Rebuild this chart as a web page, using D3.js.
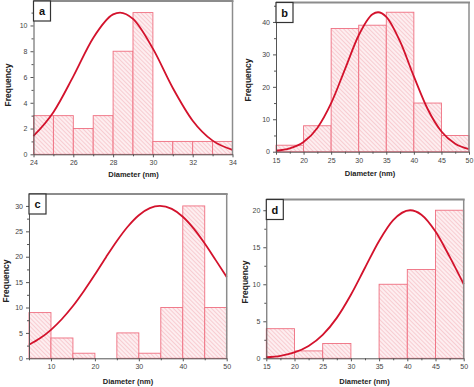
<!DOCTYPE html>
<meta charset="utf-8">
<style>
body { margin: 0; background: #fff; }
.tick text { font: 7px Arial, "Liberation Sans", sans-serif; fill: #444; }
.axis .domain, .axis line { stroke: #555; }
.xtitle, .ytitle { font-family: Arial, "Liberation Sans", sans-serif; font-weight: bold; fill: #222; }
.tag { font: bold 11px Arial, "Liberation Sans", sans-serif; fill: #111; }
</style>
<svg width="474" height="387"></svg>
<script src="https://d3js.org/d3.v7.min.js"></script>
<script>

// ---- data ----
// panel a: bins of 1 nm from 24
var aBins = [24, 25, 26, 27, 28, 29, 30, 31, 32, 33];
var aCounts = [3, 3, 2, 3, 8, 11, 1, 1, 1, 1];
var aCurveX = [24, 25, 26, 27, 28, 28.35, 29, 30, 31, 32, 33, 34];
var aCurveY = [1.42, 3.27, 6.05, 9.03, 10.86, 11, 10.51, 8.2, 5.15, 2.61, 1.06, 0.35];

// panel b: bins of 5 nm from 15
var bBins = [15, 20, 25, 30, 35, 40, 45];
var bCounts = [2, 8, 38, 39, 43, 15, 5];
var bCurveX = [15, 17.5, 20, 22.5, 25, 27.5, 30, 32.5, 33.5, 35, 37.5, 40, 42.5, 45, 47.5, 50];
var bCurveY = [0.29, 1.02, 3.0, 7.33, 14.95, 25.4, 35.9, 42.4, 43, 41.6, 34.0, 23.2, 13.16, 6.22, 2.45, 0.8];

// panel c: bins of 5 nm from 5
var cBins = [5, 10, 15, 20, 25, 30, 35, 40, 45];
var cCounts = [9, 4, 1, 0, 5, 1, 10, 30, 10];
var cCurveX = [5, 7.5, 10, 12.5, 15, 17.5, 20, 22.5, 25, 27.5, 30, 32.5, 34.8, 37.5, 40, 42.5, 45, 47.5, 50];
var cCurveY = [2.67, 3.94, 5.61, 7.74, 10.3, 13.27, 16.5, 19.87, 23.1, 25.95, 28.17, 29.57, 30, 29.41, 27.87, 25.53, 22.6, 19.33, 16];

// panel d: bins of 5 nm from 15
var dBins = [15, 20, 25, 30, 35, 40, 45];
var dCounts = [4, 1, 2, 0, 10, 12, 20];
var dCurveX = [15, 17.5, 20, 22.5, 25, 27.5, 30, 32.5, 35, 37.5, 40.5, 42.5, 45, 47.5, 50];
var dCurveY = [0.14, 0.34, 0.79, 1.66, 3.16, 5.46, 8.58, 12.23, 15.85, 18.66, 20, 19.4, 17.12, 13.73, 10];

// tick values
var aXTicks = [24, 26, 28, 30, 32, 34], aYTicks = [0, 2, 4, 6, 8, 10];
var bXTicks = [15, 20, 25, 30, 35, 40, 45, 50], bYTicks = [0, 10, 20, 30, 40];
var cXTicks = [10, 20, 30, 40, 50], cYTicks = [0, 5, 10, 15, 20, 25, 30];
var dXTicks = [15, 20, 25, 30, 35, 40, 45, 50], dYTicks = [0, 5, 10, 15, 20];

// ---- layout of the four panels ----
var panels = [
  {tag: "a", bins: aBins, counts: aCounts, width: 1, cx: aCurveX, cy: aCurveY,
   xd: [24, 34], yd: [0, 11.9], xt: aXTicks, yt: aYTicks, xm: 1, ym: 1,
   left: 33.5, right: 232.5, top: 1, bottom: 154.3,
   xtx: 133.5, xty: 177, ytx: 11, yty: 85},
  {tag: "b", bins: bBins, counts: bCounts, width: 5, cx: bCurveX, cy: bCurveY,
   xd: [15, 50], yd: [0, 46], xt: bXTicks, yt: bYTicks, xm: 2.5, ym: 5,
   left: 276, right: 469, top: 2.5, bottom: 151.7,
   xtx: 370, xty: 175.5, ytx: 250.5, yty: 80},
  {tag: "c", bins: cBins, counts: cCounts, width: 5, cx: cCurveX, cy: cCurveY,
   xd: [5, 50], yd: [0, 32.35], xt: cXTicks, yt: cYTicks, xm: 5, ym: 2.5,
   left: 29, right: 226.7, top: 194, bottom: 358.3,
   xtx: 128, xty: 383.5, ytx: 8.5, yty: 281},
  {tag: "d", bins: dBins, counts: dCounts, width: 5, cx: dCurveX, cy: dCurveY,
   xd: [15, 50], yd: [0, 21.45], xt: dXTicks, yt: dYTicks, xm: 2.5, ym: 2.5,
   left: 266.3, right: 463.7, top: 199.5, bottom: 358.3,
   xtx: 364.5, xty: 383.5, ytx: 248, yty: 282}
];

var svg = d3.select("svg");

// diagonal hatch for the bars
var pat = svg.append("defs").append("pattern")
    .attr("id", "hatch")
    .attr("patternUnits", "userSpaceOnUse")
    .attr("width", 3).attr("height", 3)
    .attr("patternTransform", "rotate(-45)");
pat.append("rect").attr("width", 3).attr("height", 3).attr("fill", "#fdeef0");
pat.append("line").attr("x1", 0).attr("y1", 0).attr("x2", 0).attr("y2", 3)
    .attr("stroke", "#f4aab3").attr("stroke-width", 1);

panels.forEach(function(p) {
  var x = d3.scaleLinear().domain(p.xd).range([p.left, p.right]);
  var y = d3.scaleLinear().domain(p.yd).range([p.bottom, p.top]);
  var g = svg.append("g");

  // bars
  g.selectAll("rect.bar")
    .data(p.bins.map(function(b, i) { return {x0: b, n: p.counts[i]}; }).filter(d => d.n > 0))
    .enter().append("rect")
      .attr("class", "bar")
      .attr("x", d => x(d.x0))
      .attr("y", d => y(d.n))
      .attr("width", d => x(d.x0 + p.width) - x(d.x0))
      .attr("height", d => y(0) - y(d.n))
      .attr("fill", "url(#hatch)")
      .attr("stroke", "#ef6f80")
      .attr("stroke-width", 0.9);

  // fitted curve
  var line = d3.line()
      .x(d => x(d[0])).y(d => y(d[1]))
      .curve(d3.curveMonotoneX);
  g.append("path")
    .datum(p.cx.map((v, i) => [v, p.cy[i]]))
    .attr("d", line)
    .attr("fill", "none")
    .attr("stroke", "#d3122c")
    .attr("stroke-width", 1.8);

  // frame: top and right in grey
  g.append("line").attr("x1", p.left).attr("x2", p.right + 1).attr("y1", p.top).attr("y2", p.top)
    .attr("stroke", "#8c8c8c").attr("stroke-width", 2);
  g.append("line").attr("x1", p.right).attr("x2", p.right).attr("y1", p.top).attr("y2", p.bottom)
    .attr("stroke", "#8c8c8c").attr("stroke-width", 1.5);

  // minor ticks
  var xMinor = d3.range(p.xd[0], p.xd[1] + 0.001, p.xm).filter(v => p.xt.indexOf(v) < 0);
  var yMinor = d3.range(0, p.yd[1], p.ym).filter(v => p.yt.indexOf(v) < 0);
  g.append("g").attr("class", "axis")
    .attr("transform", "translate(0," + p.bottom + ")")
    .call(d3.axisBottom(x).tickValues(xMinor).tickSize(2).tickFormat(""))
    .select(".domain").remove();
  g.append("g").attr("class", "axis")
    .attr("transform", "translate(" + p.left + ",0)")
    .call(d3.axisLeft(y).tickValues(yMinor).tickSize(2).tickFormat(""))
    .select(".domain").remove();

  // major axes
  g.append("g").attr("class", "axis")
    .attr("transform", "translate(0," + p.bottom + ")")
    .call(d3.axisBottom(x).tickValues(p.xt).tickSize(3).tickPadding(3).tickSizeOuter(0));
  g.append("g").attr("class", "axis")
    .attr("transform", "translate(" + p.left + ",0)")
    .call(d3.axisLeft(y).tickValues(p.yt).tickSize(3).tickPadding(3).tickSizeOuter(0));

  // axis titles
  g.append("text").attr("class", "xtitle")
    .attr("x", p.xtx).attr("y", p.xty)
    .attr("text-anchor", "middle").style("font-size", "7.5px")
    .text("Diameter (nm)");
  g.append("text").attr("class", "ytitle")
    .attr("transform", "translate(" + p.ytx + "," + p.yty + ") rotate(-90)")
    .attr("text-anchor", "middle").style("font-size", "8.5px")
    .text("Frequency");

  // panel letter box
  g.append("rect")
    .attr("x", p.left).attr("y", p.top)
    .attr("width", 17).attr("height", 20)
    .attr("fill", "#fff").attr("stroke", "#333").attr("stroke-width", 1.2);
  g.append("text").attr("class", "tag")
    .attr("x", p.left + 8.5).attr("y", p.top + 14)
    .attr("text-anchor", "middle")
    .text(p.tag);
});

</script>
